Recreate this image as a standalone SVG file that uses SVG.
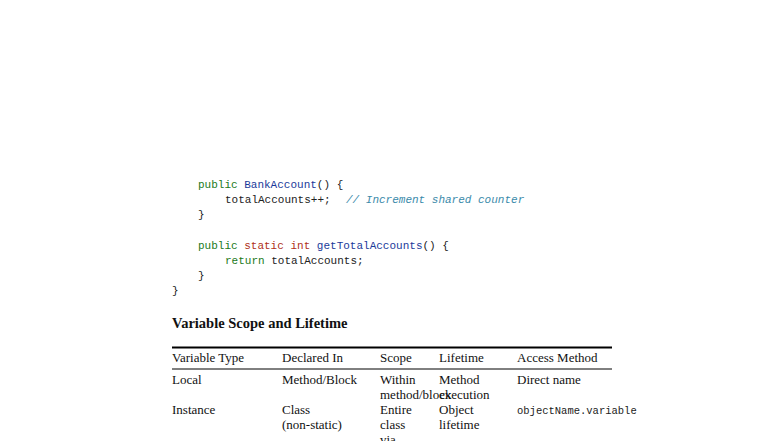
<svg xmlns="http://www.w3.org/2000/svg" width="784" height="441" viewBox="0 0 784 441">
<style>
.c{font-family:"Liberation Mono",monospace;font-size:11px;fill:#222}
.k{fill:#1a7a1a}.r{fill:#b03020}.f{fill:#1a3a9a}.m{fill:#3a8aaa;font-style:italic}
.t{font-family:"Liberation Serif",serif;font-size:13px;fill:#111}
.h{font-family:"Liberation Serif",serif;font-size:14.5px;fill:#111;font-weight:bold}
</style>
<rect width="784" height="441" fill="#fff"/>
<g id="code">
<text class="c" x="198" y="188"><tspan class="k">public</tspan> <tspan class="f">BankAccount</tspan>() {</text>
<text class="c" x="225" y="203">totalAccounts++;  <tspan class="m" x="346">// Increment shared counter</tspan></text>
<text class="c" x="198" y="218">}</text>
<text class="c" x="198" y="249"><tspan class="k">public</tspan> <tspan class="r">static</tspan> <tspan class="r">int</tspan> <tspan class="f">getTotalAccounts</tspan>() {</text>
<text class="c" x="225" y="264"><tspan class="k">return</tspan> totalAccounts;</text>
<text class="c" x="198" y="279">}</text>
<text class="c" x="172" y="294">}</text>
</g>
<g id="table">
<text class="h" x="172" y="328">Variable Scope and Lifetime</text>
<line x1="172" y1="347.5" x2="612" y2="347.5" stroke="#000" stroke-width="2"/>
<text class="t" x="172" y="362">Variable Type</text>
<text class="t" x="282" y="362">Declared In</text>
<text class="t" x="380" y="362">Scope</text>
<text class="t" x="439" y="362">Lifetime</text>
<text class="t" x="517" y="362">Access Method</text>
<line x1="172" y1="369" x2="612" y2="369" stroke="#000" stroke-width="1"/>
<text class="t" x="172" y="384">Local</text>
<text class="t" x="282" y="384">Method/Block</text>
<text class="t" x="380" y="384">Within</text>
<text class="t" x="380" y="399">method/block</text>
<text class="t" x="439" y="384">Method</text>
<text class="t" x="439" y="399">execution</text>
<text class="t" x="517" y="384">Direct name</text>
<text class="t" x="172" y="414">Instance</text>
<text class="t" x="282" y="414">Class</text>
<text class="t" x="282" y="429">(non-static)</text>
<text class="t" x="380" y="414">Entire</text>
<text class="t" x="380" y="429">class</text>
<text class="t" x="380" y="444">via</text>
<text class="t" x="439" y="414">Object</text>
<text class="t" x="439" y="429">lifetime</text>
<text class="c" x="517" y="414" style="font-size:10.5px">objectName.variable</text>
</g>
</svg>
